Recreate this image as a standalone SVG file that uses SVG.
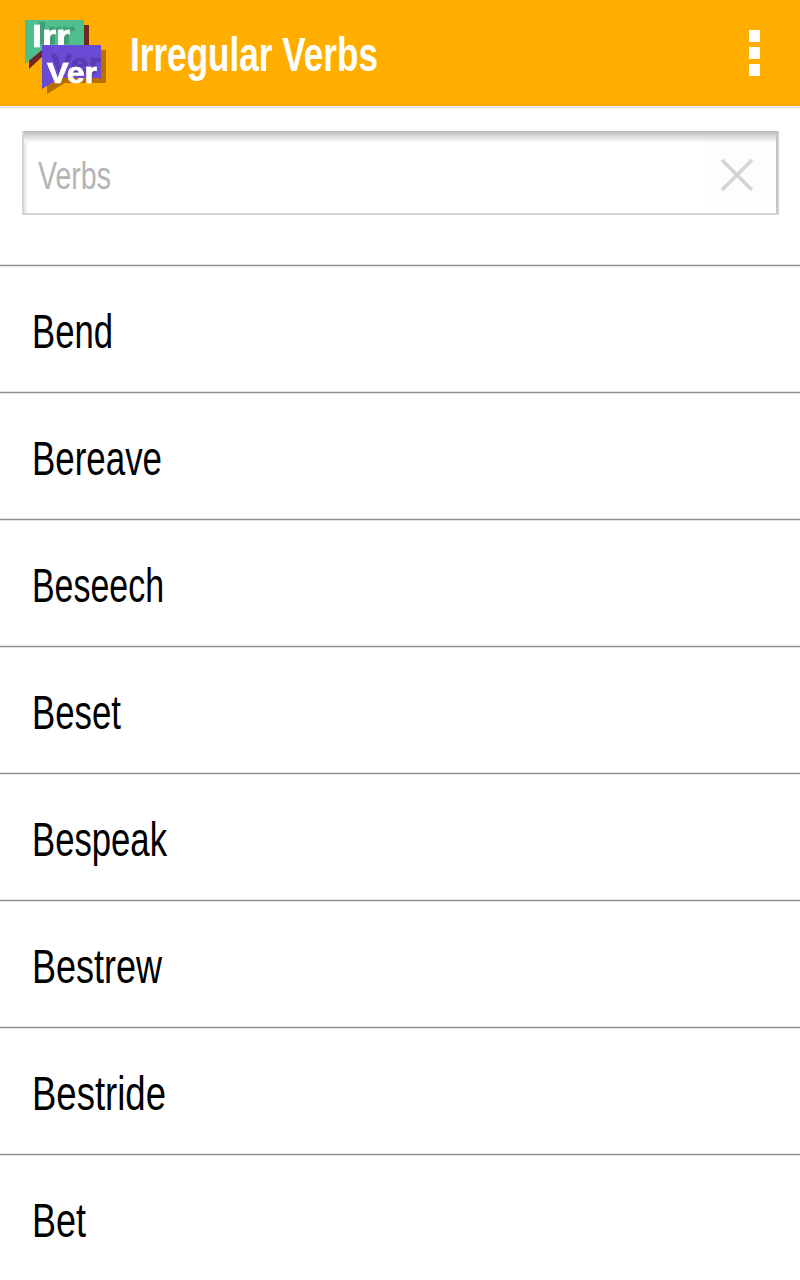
<svg xmlns="http://www.w3.org/2000/svg" width="800" height="1280" viewBox="0 0 800 1280">
<defs>
<linearGradient id="inset" x1="0" y1="0" x2="0" y2="1"><stop offset="0" stop-color="#b4b4b4"/><stop offset="0.35" stop-color="#d4d4d4"/><stop offset="1" stop-color="#ffffff"/></linearGradient>
<linearGradient id="insetL" x1="0" y1="0" x2="1" y2="0"><stop offset="0" stop-color="#e4e4e4"/><stop offset="1" stop-color="#ffffff"/></linearGradient>
<filter id="ghostIrr" x="-10%" y="-30%" width="130%" height="150%">
<feOffset in="SourceAlpha" dx="5" dy="-3" result="o"/>
<feFlood flood-color="#3f9e73"/><feComposite in2="o" operator="in" result="s"/>
<feMerge><feMergeNode in="s"/><feMergeNode in="SourceGraphic"/></feMerge>
</filter>
<filter id="ghostVer" x="-10%" y="-50%" width="130%" height="170%">
<feOffset in="SourceAlpha" dx="4" dy="-9" result="o"/>
<feFlood flood-color="#5a3ab0"/><feComposite in2="o" operator="in" result="s"/>
<feMerge><feMergeNode in="s"/><feMergeNode in="SourceGraphic"/></feMerge>
</filter>
</defs>
<style>
text{font-family:"Liberation Sans Narrow","Liberation Sans",sans-serif}
.row{font-size:48px;fill:#000}
.sep{stroke:#8f8f8f;stroke-width:1.5}
.logo-text{font-weight:700;fill:#fff;stroke:#fff;stroke-width:0.7}
</style>
<rect width="800" height="1280" fill="#ffffff"/>
<g id="app-bar">
<rect width="800" height="106" fill="#ffae00"/>
<rect y="106" width="800" height="2" fill="#e6e6e6"/>
<g id="logo">
<polygon points="29,25 89,25 89,60 42,57 29,69" fill="#6e2a22"/>
<polygon points="25,20 84,20 84,46 42,50 25,64" fill="#4fc08d"/>
<text class="logo-text" x="32" y="47" font-size="32" textLength="38" lengthAdjust="spacingAndGlyphs" filter="url(#ghostIrr)">Irr</text>
<polygon points="47,50 106,50 106,83 65,83 47,94" fill="#b86f00"/>
<polygon points="42,45 101,45 101,78 60,78 42,89" fill="#6a4bd6"/>
<text class="logo-text" x="47" y="83" font-size="30" textLength="50" lengthAdjust="spacingAndGlyphs" filter="url(#ghostVer)">Ver</text>
</g>
<text id="title" x="130" y="71" font-size="48" font-weight="700" fill="#ffffff" textLength="248" lengthAdjust="spacingAndGlyphs">Irregular Verbs</text>
<g id="menu" fill="#ffffff">
<rect x="749" y="30" width="11" height="12"/>
<rect x="749" y="47" width="11" height="12"/>
<rect x="749" y="64" width="11" height="12"/>
</g>
</g>
<g id="search">
<rect x="23" y="132" width="755" height="82" fill="#ffffff" stroke="#d4d4d4" stroke-width="2"/>
<rect x="24" y="132" width="4" height="81" fill="url(#insetL)"/>
<rect x="704" y="143" width="72" height="70" fill="#fdfdfd"/>
<rect x="24" y="131" width="753" height="12" fill="url(#inset)"/>
<rect x="776" y="132" width="2" height="81" fill="#c6c6c6"/>
<text x="38" y="189" font-size="38" fill="#b4b4b4" textLength="73" lengthAdjust="spacingAndGlyphs">Verbs</text>
<path d="M722,160 L752,190 M752,160 L722,190" stroke="#d4d4d4" stroke-width="3.500" fill="none"/>
</g>
<g id="separators">
<line class="sep" x1="0" y1="265.500" x2="800" y2="265.500"/>
<line class="sep" x1="0" y1="392.500" x2="800" y2="392.500"/>
<line class="sep" x1="0" y1="519.500" x2="800" y2="519.500"/>
<line class="sep" x1="0" y1="646.500" x2="800" y2="646.500"/>
<line class="sep" x1="0" y1="773.500" x2="800" y2="773.500"/>
<line class="sep" x1="0" y1="900.500" x2="800" y2="900.500"/>
<line class="sep" x1="0" y1="1027.500" x2="800" y2="1027.500"/>
<line class="sep" x1="0" y1="1154.500" x2="800" y2="1154.500"/>
</g>
<g id="row-bend"><text class="row" x="32" y="348" textLength="81" lengthAdjust="spacingAndGlyphs">Bend</text></g>
<g id="row-bereave"><text class="row" x="32" y="475" textLength="130" lengthAdjust="spacingAndGlyphs">Bereave</text></g>
<g id="row-beseech"><text class="row" x="32" y="602" textLength="132" lengthAdjust="spacingAndGlyphs">Beseech</text></g>
<g id="row-beset"><text class="row" x="32" y="729" textLength="89" lengthAdjust="spacingAndGlyphs">Beset</text></g>
<g id="row-bespeak"><text class="row" x="32" y="856" textLength="135" lengthAdjust="spacingAndGlyphs">Bespeak</text></g>
<g id="row-bestrew"><text class="row" x="32" y="983" textLength="130" lengthAdjust="spacingAndGlyphs">Bestrew</text></g>
<g id="row-bestride"><text class="row" x="32" y="1110" textLength="134" lengthAdjust="spacingAndGlyphs">Bestride</text></g>
<g id="row-bet"><text class="row" x="32" y="1237" textLength="54" lengthAdjust="spacingAndGlyphs">Bet</text></g>
</svg>
